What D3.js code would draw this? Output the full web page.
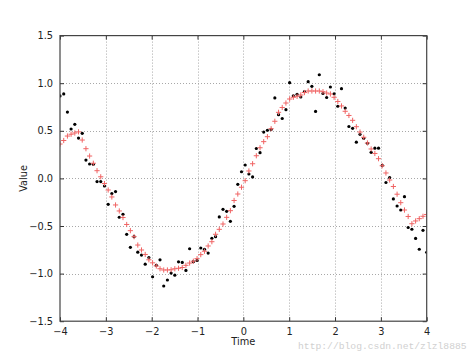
<!DOCTYPE html>
<html>
<head>
<meta charset="utf-8">
<script src="https://cdn.jsdelivr.net/npm/d3@7"></script>
<style>
html,body{margin:0;padding:0;background:#fff;}
svg{display:block;}
</style>
</head>
<body>
<svg id="chart" width="474" height="357"></svg>
<script>
// Sample times (100 evenly spaced samples from -4 to 4)
const time = [
-4.000,-3.919,-3.838,-3.758,-3.677,-3.596,-3.515,-3.434,-3.354,-3.273,
-3.192,-3.111,-3.030,-2.949,-2.869,-2.788,-2.707,-2.626,-2.545,-2.465,
-2.384,-2.303,-2.222,-2.141,-2.061,-1.980,-1.899,-1.818,-1.737,-1.657,
-1.576,-1.495,-1.414,-1.333,-1.253,-1.172,-1.091,-1.010,-0.929,-0.848,
-0.768,-0.687,-0.606,-0.525,-0.444,-0.364,-0.283,-0.202,-0.121,-0.040,
0.040,0.121,0.202,0.283,0.364,0.444,0.525,0.606,0.687,0.768,
0.848,0.929,1.010,1.091,1.172,1.253,1.333,1.414,1.495,1.576,
1.657,1.737,1.818,1.899,1.980,2.061,2.141,2.222,2.303,2.384,
2.465,2.545,2.626,2.707,2.788,2.869,2.949,3.030,3.111,3.192,
3.273,3.354,3.434,3.515,3.596,3.677,3.758,3.838,3.919,4.000];

// Noisy observed values (black dots)
const observed = [
0.866,0.887,0.697,0.519,0.568,0.424,0.474,0.193,0.151,0.148,
-0.033,-0.033,-0.080,-0.272,-0.159,-0.138,-0.408,-0.377,-0.587,-0.724,
-0.612,-0.775,-0.805,-0.901,-0.831,-1.033,-0.913,-0.855,-1.130,-1.067,
-0.994,-1.017,-0.876,-0.883,-0.967,-0.739,-0.875,-0.862,-0.731,-0.744,
-0.784,-0.629,-0.612,-0.405,-0.325,-0.346,-0.451,-0.293,-0.062,0.070,
0.141,0.046,0.015,0.314,0.270,0.487,0.506,0.514,0.845,0.669,
0.629,0.722,1.005,0.868,0.884,0.855,0.911,1.016,0.967,0.703,
1.089,0.892,0.850,0.960,0.889,0.758,0.942,0.739,0.545,0.526,
0.380,0.463,0.421,0.369,0.274,0.317,0.317,0.136,-0.043,0.009,
-0.216,-0.290,-0.332,-0.192,-0.516,-0.534,-0.631,-0.744,-0.545,-0.776];

// Fitted / predicted values (red pluses)
const predicted = [
0.361,0.398,0.445,0.464,0.477,0.489,0.403,0.312,0.235,0.159,
0.081,0.017,-0.054,-0.122,-0.195,-0.279,-0.342,-0.411,-0.484,-0.549,
-0.612,-0.700,-0.752,-0.799,-0.855,-0.887,-0.920,-0.949,-0.962,-0.962,
-0.960,-0.949,-0.944,-0.936,-0.913,-0.889,-0.870,-0.843,-0.801,-0.765,
-0.710,-0.665,-0.587,-0.535,-0.479,-0.409,-0.339,-0.232,-0.164,-0.093,
-0.024,0.078,0.154,0.238,0.322,0.386,0.438,0.522,0.600,0.694,
0.745,0.792,0.834,0.852,0.862,0.876,0.902,0.918,0.918,0.918,
0.918,0.911,0.897,0.887,0.852,0.808,0.761,0.705,0.661,0.610,
0.543,0.487,0.432,0.372,0.309,0.262,0.207,0.133,0.057,-0.017,
-0.085,-0.166,-0.255,-0.332,-0.400,-0.476,-0.447,-0.423,-0.398,-0.379];

const xTicks = [-4,-3,-2,-1,0,1,2,3,4];
const yTicks = [-1.5,-1.0,-0.5,0.0,0.5,1.0,1.5];
const xLabel = "Time";
const yLabel = "Value";
const watermark = "http://blog.csdn.net/zlzl8885";

const svg = d3.select("#chart");
const L = 60, R = 426.7, T = 35.6, B = 321.2;
const x = d3.scaleLinear().domain([-4,4]).range([L,R]);
const y = d3.scaleLinear().domain([-1.5,1.5]).range([B,T]);
const font = "DejaVu Sans, sans-serif";

// grid
const grid = svg.append("g");
grid.selectAll("line.gx").data(xTicks.slice(1,-1)).join("line")
  .attr("x1",d=>Math.round(x(d))+0.5).attr("x2",d=>Math.round(x(d))+0.5)
  .attr("y1",T).attr("y2",B)
  .attr("stroke","#a8a8a8").attr("stroke-width",1).attr("stroke-dasharray","1,2");
grid.selectAll("line.gy").data(yTicks.slice(1,-1)).join("line")
  .attr("y1",d=>Math.round(y(d))+0.5).attr("y2",d=>Math.round(y(d))+0.5)
  .attr("x1",L).attr("x2",R)
  .attr("stroke","#a8a8a8").attr("stroke-width",1).attr("stroke-dasharray","1,2");

// clip
svg.append("defs").append("clipPath").attr("id","clip")
  .append("rect").attr("x",L).attr("y",T).attr("width",R-L).attr("height",B-T);

const marks = svg.append("g").attr("clip-path","url(#clip)");
const idx = d3.range(time.length);

marks.selectAll("circle").data(idx).join("circle")
  .attr("cx",i=>x(time[i])).attr("cy",i=>y(observed[i]))
  .attr("r",1.6).attr("fill","#000");

const s = 2.6;
marks.selectAll("path.plus").data(idx).join("path")
  .attr("class","plus")
  .attr("d",i=>{const cx=x(time[i]), cy=y(predicted[i]);
    return `M${cx-s},${cy}H${cx+s}M${cx},${cy-s}V${cy+s}`;})
  .attr("stroke","#f06464").attr("stroke-width",1).attr("fill","none");

// axes (classic inward ticks on all sides)
const xAxB = d3.axisBottom(x).tickValues(xTicks).tickSizeInner(-4).tickSizeOuter(0).tickPadding(7).tickFormat(d3.format("d"));
const xAxT = d3.axisTop(x).tickValues(xTicks).tickSizeInner(-4).tickSizeOuter(0).tickFormat("");
const yAxL = d3.axisLeft(y).tickValues(yTicks).tickSizeInner(-4).tickSizeOuter(0).tickPadding(7).tickFormat(d3.format(".1f"));
const yAxR = d3.axisRight(y).tickValues(yTicks).tickSizeInner(-4).tickSizeOuter(0).tickFormat("");

function style(g){
  g.select(".domain").remove();
  g.selectAll(".tick line").attr("stroke","#333");
  g.selectAll(".tick text").attr("fill","#222").style("font-family",font).style("font-size","9.8px");
}
svg.append("g").attr("transform",`translate(0,${B})`).call(xAxB).call(style);
svg.append("g").attr("transform",`translate(0,${T})`).call(xAxT).call(style);
svg.append("g").attr("transform",`translate(${L},0)`).call(yAxL).call(style);
svg.append("g").attr("transform",`translate(${R},0)`).call(yAxR).call(style);

// frame
svg.append("rect").attr("x",L).attr("y",T).attr("width",R-L).attr("height",B-T)
  .attr("fill","none").attr("stroke","#444").attr("stroke-width",1.2);

// labels
svg.append("text").attr("x",(L+R)/2).attr("y",345).attr("text-anchor","middle")
  .style("font-family",font).style("font-size","9.8px").attr("fill","#222").text(xLabel);
svg.append("text").attr("transform",`translate(27,${(T+B)/2}) rotate(-90)`).attr("text-anchor","middle")
  .style("font-family",font).style("font-size","9.8px").attr("fill","#222").text(yLabel);

svg.append("text").attr("x",298).attr("y",349)
  .style("font-family","Liberation Mono, monospace").style("font-size","9.7px")
  .attr("fill","#d0d0d0").text(watermark);
</script>
</body>
</html>
